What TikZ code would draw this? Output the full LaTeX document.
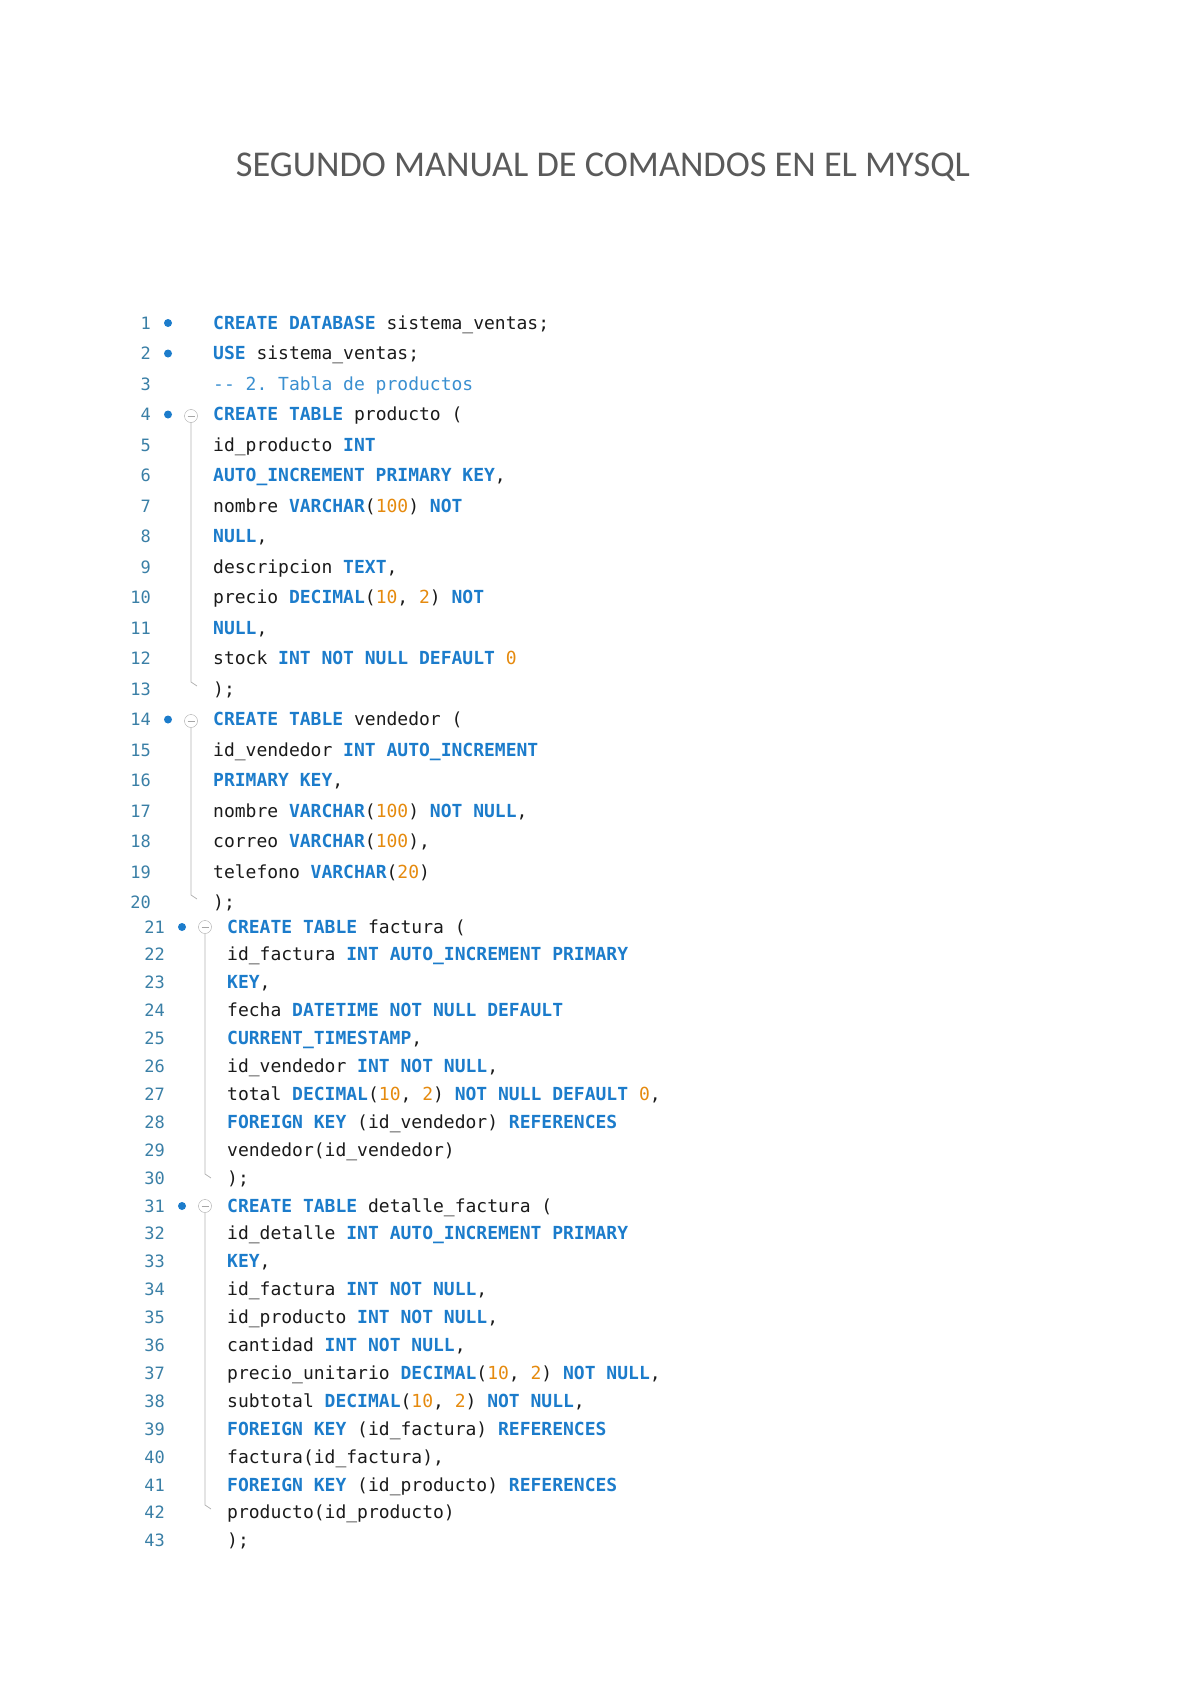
\documentclass[tikz,border=0pt]{standalone}
\usepackage{fontspec}
\setmonofont{DejaVu Sans Mono}
\newfontfamily\titlefont{Carlito}
\definecolor{kw}{HTML}{1C7CCB}
\definecolor{nm}{HTML}{E58A0E}
\definecolor{cm}{HTML}{3A8FD0}
\definecolor{ln}{HTML}{3A7FA6}
\definecolor{tx}{HTML}{1A1A1A}
\definecolor{tt}{HTML}{5A5A5A}
\newcommand\K[1]{\textcolor{kw}{\bfseries #1}}
\newcommand\N[1]{\textcolor{nm}{#1}}
\begin{document}
\begin{tikzpicture}[x=1pt,y=-1pt,
 code/.style={anchor=base west,inner sep=0pt,font=\ttfamily\fontsize{18}{18}\selectfont,text=tx},
 lnum/.style={anchor=base east,inner sep=0pt,font=\ttfamily\fontsize{17}{17}\selectfont,text=ln},
 bdot/.style={circle,fill=kw,inner sep=0pt,minimum size=8pt},
 fold/.style={circle,draw=gray!70,inner sep=0pt,minimum size=13pt},
 fline/.style={draw=gray!60,line width=0.8pt}]
\useasboundingbox (0,0) rectangle (1200,1696);
\node[text=tt,font=\titlefont\fontsize{36.3}{36}\selectfont,inner sep=0pt] (title) at (603,167) {SEGUNDO MANUAL DE COMANDOS EN EL MYSQL};
\newcommand\La[2]{\node[lnum] (n#1) at (151,{329+(#1-1)*30.5}) {#1};\node[code] (l#1) at (213,{329+(#1-1)*30.5}) {#2};}
\newcommand\Lb[2]{\node[lnum] (n#1) at (165,{933+(#1-21)*27.9}) {#1};\node[code] (l#1) at (227,{933+(#1-21)*27.9}) {#2};}
\La{1}{\K{CREATE DATABASE} sistema\_ventas;}
\La{2}{\K{USE} sistema\_ventas;}
\La{3}{\textcolor{cm}{-- 2. Tabla de productos}}
\La{4}{\K{CREATE TABLE} producto (}
\La{5}{id\_producto \K{INT}}
\La{6}{\K{AUTO\_INCREMENT PRIMARY KEY},}
\La{7}{nombre \K{VARCHAR}(\N{100}) \K{NOT}}
\La{8}{\K{NULL},}
\La{9}{descripcion \K{TEXT},}
\La{10}{precio \K{DECIMAL}(\N{10}, \N{2}) \K{NOT}}
\La{11}{\K{NULL},}
\La{12}{stock \K{INT NOT NULL DEFAULT} \N{0}}
\La{13}{);}
\La{14}{\K{CREATE TABLE} vendedor (}
\La{15}{id\_vendedor \K{INT AUTO\_INCREMENT}}
\La{16}{\K{PRIMARY KEY},}
\La{17}{nombre \K{VARCHAR}(\N{100}) \K{NOT NULL},}
\La{18}{correo \K{VARCHAR}(\N{100}),}
\La{19}{telefono \K{VARCHAR}(\N{20})}
\La{20}{);}
\Lb{21}{\K{CREATE TABLE} factura (}
\Lb{22}{id\_factura \K{INT AUTO\_INCREMENT PRIMARY}}
\Lb{23}{\K{KEY},}
\Lb{24}{fecha \K{DATETIME NOT NULL DEFAULT}}
\Lb{25}{\K{CURRENT\_TIMESTAMP},}
\Lb{26}{id\_vendedor \K{INT NOT NULL},}
\Lb{27}{total \K{DECIMAL}(\N{10}, \N{2}) \K{NOT NULL DEFAULT} \N{0},}
\Lb{28}{\K{FOREIGN KEY} (id\_vendedor) \K{REFERENCES}}
\Lb{29}{vendedor(id\_vendedor)}
\Lb{30}{);}
\Lb{31}{\K{CREATE TABLE} detalle\_factura (}
\Lb{32}{id\_detalle \K{INT AUTO\_INCREMENT PRIMARY}}
\Lb{33}{\K{KEY},}
\Lb{34}{id\_factura \K{INT NOT NULL},}
\Lb{35}{id\_producto \K{INT NOT NULL},}
\Lb{36}{cantidad \K{INT NOT NULL},}
\Lb{37}{precio\_unitario \K{DECIMAL}(\N{10}, \N{2}) \K{NOT NULL},}
\Lb{38}{subtotal \K{DECIMAL}(\N{10}, \N{2}) \K{NOT NULL},}
\Lb{39}{\K{FOREIGN KEY} (id\_factura) \K{REFERENCES}}
\Lb{40}{factura(id\_factura),}
\Lb{41}{\K{FOREIGN KEY} (id\_producto) \K{REFERENCES}}
\Lb{42}{producto(id\_producto)}
\Lb{43}{);}
\foreach \i in {1,2,4,14} \node[bdot] (d\i) at (168,{323+(\i-1)*30.5}) {};
\foreach \i in {21,31} \node[bdot] (d\i) at (182,{927+(\i-21)*27.9}) {};
\newcommand\Fold[4]{%
 \node[fold] (f#1) at (#2,#3) {};
 \draw[gray!70,line width=0.8pt] ([xshift=-3.5pt]f#1.center) -- ([xshift=3.5pt]f#1.center);
 \coordinate (e#1) at (#2,#4);
 \draw[fline] (f#1.south) -- (e#1) -- ++(6,4);}
\Fold{4}{191}{416}{682}
\Fold{14}{191}{721}{895}
\Fold{21}{205}{927}{1174}
\Fold{31}{205}{1206}{1505}
\end{tikzpicture}
\end{document}
